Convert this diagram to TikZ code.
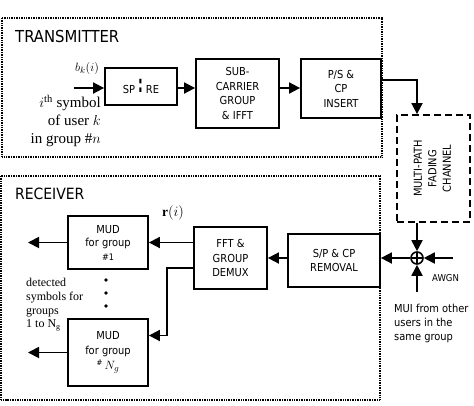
\documentclass[tikz,border=0pt]{standalone}
\usepackage{fontspec}
\setmainfont{Liberation Serif}
\setsansfont{DejaVu Sans Condensed}
\usetikzlibrary{arrows.meta,calc}

\begin{document}
\begin{tikzpicture}[x=1pt,y=-1pt,
  blk/.style={draw,line width=1.8pt,align=center,inner sep=0pt,font=\sffamily\fontsize{11}{14.5}\selectfont},
  sig/.style={-{Triangle[length=11pt,width=11pt]},line width=1.8pt},
  frame/.style={draw,line width=1.5pt,dash pattern=on 1pt off 0.7pt},
  lbl/.style={inner sep=0pt,font=\sffamily\fontsize{11}{14}\selectfont,align=left}
]
  \useasboundingbox (0,0) rectangle (474,405);
  % transmitter and receiver frames
  \draw[frame] (2,18) rectangle (382,157);
  \draw[frame] (1,176) rectangle (380,400);
  \node[inner sep=0pt,anchor=west,font=\sffamily\fontsize{16.5}{18}\selectfont] (txt) at (15,36) {TRANSMITTER};
  \node[inner sep=0pt,anchor=west,font=\sffamily\fontsize{15.5}{18}\selectfont] (rxt) at (15,194) {RECEIVER};

  % transmitter chain
  \node[blk,minimum width=72pt,minimum height=37pt] (sp) at (141,86.5)
    {SP\hspace{3pt}\raisebox{1pt}{\scalebox{1.2}[2.2]{\textbf{:}}}\hspace{3pt}RE};
  \node[blk,minimum width=83pt,minimum height=69pt] (sub) at (237.5,93.5)
    {SUB-\\CARRIER\\GROUP\\\& IFFT};
  \node[blk,minimum width=80pt,minimum height=59pt] (ps) at (341,88.5)
    {P/S \&\\CP\\INSERT};
  \coordinate (in) at (74,88);
  \node[inner sep=0pt,font=\fontsize{12.5}{14}\selectfont] (bk) at (87,68) {$b_k(i)$};
  \node[inner sep=0pt,anchor=north east,align=right,font=\fontsize{15}{18}\selectfont] (sym) at (101,95)
    {$i^{\mathrm{th}}$ symbol\\ of user $k$\\ in group \#$n$};

  % channel
  \node[blk,dash pattern=on 7pt off 4pt,minimum width=73pt,minimum height=107pt] (ch) at (433.5,168.5)
    {\rotatebox{90}{\begin{tabular}{@{}c@{}}MULTI-PATH\\FADING\\CHANNEL\end{tabular}}};
  \node[circle,draw,line width=1.6pt,minimum size=12pt,inner sep=0pt,
    path picture={\draw[line width=1.6pt] (path picture bounding box.north) -- (path picture bounding box.south)
      (path picture bounding box.west) -- (path picture bounding box.east);}] (sum) at (417,258) {};
  \coordinate (mui) at (453,258);
  \coordinate (noise) at (417,292);
  \node[lbl,anchor=west,font=\sffamily\fontsize{9.5}{11}\selectfont] (awgn) at (432,278) {AWGN};
  \node[lbl,anchor=north west] (muit) at (394,304) {MUI from other\\users in the\\same group};

  % receiver chain
  \node[blk,minimum width=92pt,minimum height=53pt] (spr) at (334,260.5)
    {S/P \& CP\\REMOVAL};
  \node[blk,minimum width=73pt,minimum height=62pt] (fft) at (230.5,258)
    {FFT \&\\GROUP\\DEMUX};
  \node[blk,minimum width=80pt,minimum height=53pt,font=\sffamily\fontsize{11}{13.5}\selectfont] (mud1) at (108,242.5)
    {MUD\\for group\\{\fontsize{9}{10}\selectfont\#1}};
  \node[blk,minimum width=80pt,minimum height=67pt,font=\sffamily\fontsize{11}{15}\selectfont] (mudN) at (108,352.5)
    {MUD\\for group\\\textsuperscript{\#}\,{\fontsize{13}{15}\selectfont$N_g$}};
  \node[inner sep=0pt,font=\fontsize{13.5}{15}\selectfont] (ri) at (173,213) {$\mathbf{r}(i)$};
  \coordinate (o1) at (28,242.5);
  \coordinate (oN) at (28,352.5);
  \fill (106,280) circle (1.9pt) (106,293) circle (1.9pt) (106,306) circle (1.9pt);
  \node[inner sep=0pt,anchor=north west,align=left,font=\fontsize{12}{13.8}\selectfont] (det) at (26,278)
    {detected\\symbols for\\groups\\1 to N$_\mathrm{g}$};

  % connections
  \draw[sig] (in) -- (sp.west |- in);
  \draw[sig] (sp.east |- in) -- (sub.west |- in);
  \draw[sig] (sub.east |- in) -- (ps.west |- in);
  \draw[sig] ($(ps.east)+(0,-8.5)$) -| (ch.north -| sum);
  \draw[sig] (ch.south -| sum) -- (sum.north);
  \draw[sig] (mui) -- (sum.east);
  \draw[sig] (noise) -- (sum.south);
  \draw[sig] (sum.west) -- (sum.west -| spr.east);
  \draw[sig] (spr.west |- fft.east) -- (fft.east);
  \draw[sig] (fft.west |- mud1.east) -- (mud1.east);
  \draw[sig] ($(fft.west)+(0,10)$) -- ++(-26,0) |- ($(mudN.east)+(0,-17)$);
  \draw[sig] (mud1.west) -- (o1);
  \draw[sig] (mudN.west) -- (oN);
\end{tikzpicture}
\end{document}
